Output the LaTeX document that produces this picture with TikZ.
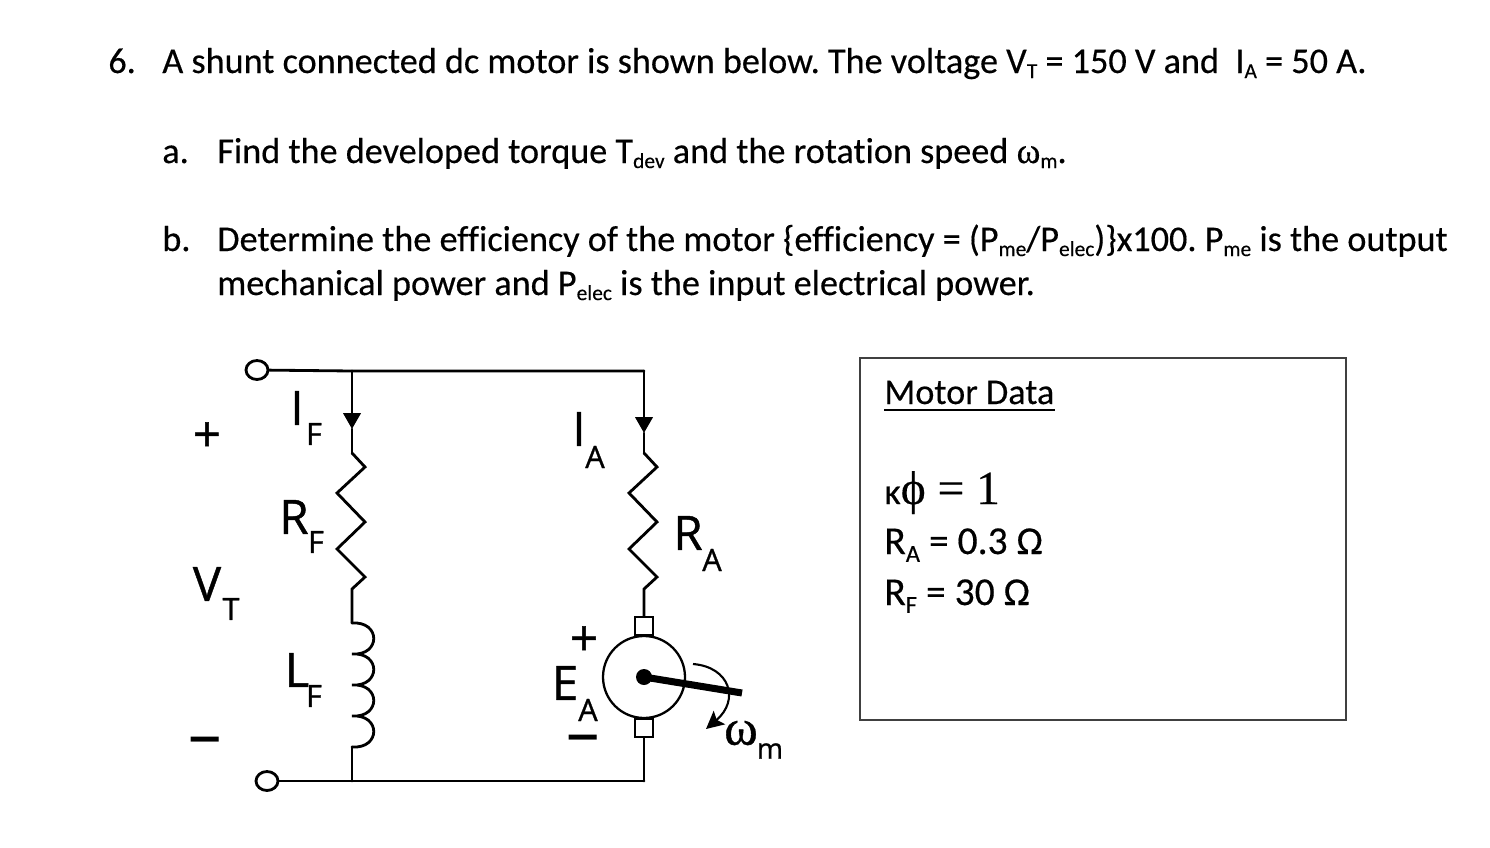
\documentclass[tikz,border=0pt]{standalone}
\usepackage{fontspec}
\setmainfont[Ligatures=NoCommon,FakeBold=0.35]{Carlito}
\newfontfamily\labelfont[FakeBold=0.9]{Open Sans}
\newfontfamily\minusfont{Open Sans}
\newfontfamily\greekfont[FakeBold=0.3]{Liberation Serif}
\newfontfamily\omegafont[FakeBold=0.8]{Liberation Serif}
\usetikzlibrary{arrows.meta, positioning, calc, shapes.geometric}
\newcommand{\lo}[1]{\raisebox{-0.14em}{\fontsize{12.2}{12.2}\selectfont #1}}
\newcommand{\lob}[1]{\raisebox{-0.2em}{\fontsize{14}{14}\selectfont #1}}
\frenchspacing
\tikzset{
    x=0.02cm, y=-0.02cm,
    wire/.style={line width=1.6pt, line cap=round, line join=miter},
    body/.style={font=\fontsize{20.6}{24}\selectfont, anchor=base west, inner sep=0pt},
    data/.style={font=\fontsize{22.5}{24}\selectfont, anchor=base west, inner sep=0pt},
    lbl/.style={font=\labelfont\fontsize{27}{27}\selectfont, inner sep=0pt},
    sublbl/.style={font=\labelfont\fontsize{17.5}{17.5}\selectfont, inner sep=0pt},
    sign/.style={font=\labelfont\fontsize{28}{28}\selectfont, inner sep=0pt},
    minus/.style={font=\minusfont\fontsize{38}{38}\selectfont, inner sep=0pt},
    terminal/.style={draw, ellipse, wire, fill=white, inner sep=0pt, minimum width=0.44cm, minimum height=0.38cm},
    brush/.style={draw, rectangle, line width=1.3pt, fill=white, inner sep=0pt, minimum width=0.37cm, minimum height=0.37cm},
    zig/.style={to path={(\tikztostart) -- ++(13,14) -- ++(-28,26) -- ++(28,29) -- ++(-28,27) -- ++(28,28) -- (\tikztotarget)}},
    coil/.style={to path={(\tikztostart)
        .. controls +(29,-2) and +(29,2) .. ++(0,31)
        .. controls +(29,-2) and +(29,2) .. ++(0,31)
        .. controls +(29,-2) and +(29,2) .. ++(0,31)
        .. controls +(29,-2) and +(29,2) .. ++(0,31)}},
    headtip/.style={-{Triangle[length=9pt,width=9.8pt]}},
}
\begin{document}
\begin{tikzpicture}
    \useasboundingbox (0,0) rectangle (1490,848);

    % question text
    \node[body] (qnum) at (108,73) {6.};
    \node[body] (qmain) at (162,73) {A shunt connected dc motor is shown below. The voltage V\lo{T} = 150 V and~~I\lo{A} = 50 A.};
    \node[body] (anum) at (162,163) {a.};
    \node[body] (amain) at (217,163) {Find the developed torque T\lo{dev} and the rotation speed {\greekfont ω}\lo{m}.};
    \node[body] (bnum) at (162,251) {b.};
    \node[body] (bmain) at (217,251) {Determine the efficiency of the motor \{efficiency = (P\lo{me}/P\lo{elec})\}x100. P\lo{me} is the output};
    \node[body] (bnext) at (217,295) {mechanical power and P\lo{elec} is the input electrical power.};

    % terminals and junctions
    \node[terminal] (top) at (257,370) {};
    \node[terminal] (bottom) at (267,781) {};
    \coordinate (jF) at (352,371);
    \coordinate (jA) at (644,371);
    \coordinate (jFb) at (352,781);
    \coordinate (jAb) at (644,781);

    \draw[wire] (top) -- (jF) -- (jA);
    \draw[wire] (bottom) -- (jFb) -- (jAb);

    % field branch
    \coordinate (tipF) at ($(jF)+(0,58)$);
    \coordinate (zigF) at ($(jF)+(0,82)$);
    \coordinate (zigFend) at ($(zigF)+(0,136)$);
    \coordinate (coilF) at ($(zigFend)+(0,34)$);
    \coordinate (coilFend) at ($(coilF)+(0,124)$);
    \draw[wire, headtip] (jF) -- (tipF);
    \draw[wire] (tipF) -- (zigF);
    \draw[wire] (zigF) to[zig] (zigFend) -- (coilF);
    \draw[wire] (coilF) to[coil] (coilFend);
    \draw[wire] (coilFend) -- (jFb);

    % armature branch
    \coordinate (tipA) at ($(jA)+(0,62)$);
    \coordinate (zigA) at ($(jA)+(0,82)$);
    \coordinate (zigAend) at ($(zigA)+(0,136)$);
    \node[draw, circle, line width=1.3pt, fill=white, inner sep=0pt, minimum size=1.64cm] (rotor) at (644,677) {};
    \node[brush] (brushtop) at (644,626) {};
    \node[brush] (brushbot) at (644,728) {};
    \draw[wire, headtip] (jA) -- (tipA);
    \draw[wire] (tipA) -- (zigA);
    \draw[wire] (zigA) to[zig] (zigAend) -- (brushtop);
    \draw[wire] (brushbot) -- (jAb);

    % shaft and rotation arrow
    \node[circle, fill=black, inner sep=0pt, minimum size=0.32cm] (hub) at (rotor) {};
    \coordinate (shaft) at ($(rotor)+(98,16)$);
    \draw[line width=4pt] (hub.center) -- (shaft);
    \coordinate (spinA) at (693,664);
    \coordinate (spinB) at (706,729);
    \draw[line width=1.2pt, -{Stealth[length=10pt,width=10pt,inset=2pt]}] (spinA) .. controls (730,667) and (740,700) .. (spinB);

    % circuit labels
    \node[sign] (plusT) at (207,437) {+};
    \node[lbl] (vT) at (207,584) {V};
    \node[sublbl] (vTs) at ($(vT)+(24,25)$) {T};
    \node[minus] (minusT) at (205,757) {\smash{–}};
    \node[lbl] (iF) at (297,408) {I};
    \node[sublbl] (iFs) at ($(iF)+(17,26)$) {F};
    \node[lbl] (rF) at (294,517) {R};
    \node[sublbl] (rFs) at ($(rF)+(22,25)$) {F};
    \node[lbl] (lF) at (297,670) {L};
    \node[sublbl] (lFs) at ($(lF)+(17,26)$) {F};
    \node[lbl] (iA) at (579,429) {I};
    \node[sublbl] (iAs) at ($(iA)+(16,28)$) {A};
    \node[lbl] (rA) at (688,533) {R};
    \node[sublbl] (rAs) at ($(rA)+(24,27)$) {A};
    \node[sign] (plusE) at (584,641) {+};
    \node[lbl] (eA) at (565,683) {E};
    \node[sublbl] (eAs) at ($(eA)+(23,27)$) {A};
    \node[minus] (minusE) at (583,755) {\smash{–}};
    \node[inner sep=0pt, font=\omegafont\fontsize{29}{29}\selectfont] (wm) at (741,733) {ω};
    \node[inner sep=0pt, font=\labelfont\fontsize{16}{16}\selectfont] (wms) at ($(wm)+(29,18)$) {m};

    % motor data box
    \node[draw=black!75, line width=0.9pt, minimum width=9.72cm, minimum height=7.24cm, inner sep=0pt] (databox) at (1103,539) {};
    \node[body] (dtitle) at (884,404) {Motor Data};
    \draw[line width=0.9pt] ($(dtitle.base west)+(0,6)$) -- ($(dtitle.base east)+(0,6)$);
    \node[body] (dk) at (884,504) {κ{\greekfont\fontsize{27}{27}\selectfont ϕ = 1}};
    \node[data] (dra) at (884,554) {R\lob{A} = 0.3 Ω};
    \node[data] (drf) at (884,605) {R\lob{F} = 30 Ω};
\end{tikzpicture}
\end{document}
